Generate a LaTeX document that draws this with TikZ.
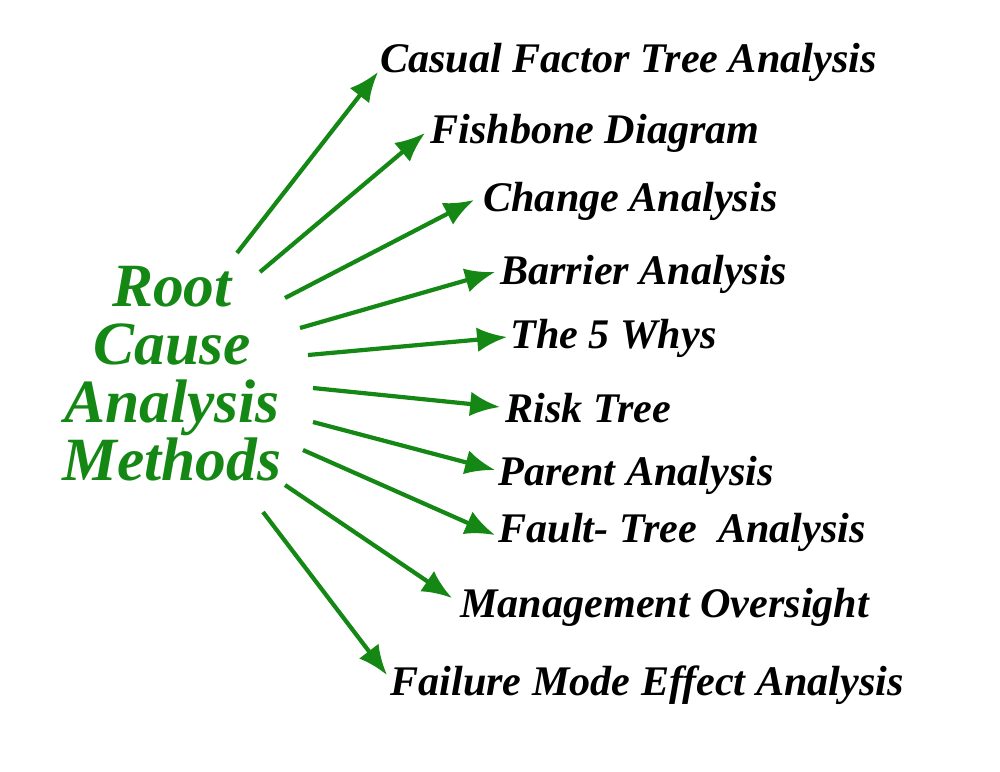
\documentclass[tikz,border=0pt]{standalone}
\usepackage{fontspec}
\setmainfont{Liberation Serif}
\usetikzlibrary{arrows.meta}
\definecolor{rcgreen}{RGB}{20,135,20}
\begin{document}
\begin{tikzpicture}[x=0.02cm,y=-0.02cm,
  lbl/.style={anchor=west,inner sep=0pt,font=\fontsize{24}{27}\selectfont\bfseries\itshape},
  arr/.style={draw=rcgreen,line width=2.4pt,-{Latex[length=17pt,width=14pt]}}]
\useasboundingbox (0,0) rectangle (1000,771);
\node[align=center,text=rcgreen,font=\fontsize{35}{33}\selectfont\bfseries\itshape] (title) at (172,374) {Root\\Cause\\Analysis\\Methods};
\node[lbl] (l1) at (380,62) {Casual Factor Tree Analysis};
\node[lbl] (l2) at (430,133) {Fishbone Diagram};
\node[lbl] (l3) at (483,201) {Change Analysis};
\node[lbl] (l4) at (500,274) {Barrier Analysis};
\node[lbl] (l5) at (510,338) {The 5 Whys};
\node[lbl] (l6) at (505,408) {Risk Tree};
\node[lbl] (l7) at (498,475) {Parent Analysis};
\node[lbl] (l8) at (498,532) {Fault- Tree\ \ Analysis};
\node[lbl] (l9) at (460,607) {Management Oversight};
\node[lbl] (l10) at (390,685) {Failure Mode Effect Analysis};
\foreach \i/\sx/\sy/\ex/\ey in {1/237/253/378/72,2/260/272/425/133,3/285/298/474/200,4/300/328/495/272,5/308/355/507/337,6/313/388/500/407,7/313/422/495/470,8/303/450/495/535,9/285/485/452/598,10/263/512/387/675}{
  \coordinate (s\i) at (\sx,\sy);
  \coordinate (e\i) at (\ex,\ey);
  \draw[arr] (s\i) -- (e\i);
}
\end{tikzpicture}
\end{document}
